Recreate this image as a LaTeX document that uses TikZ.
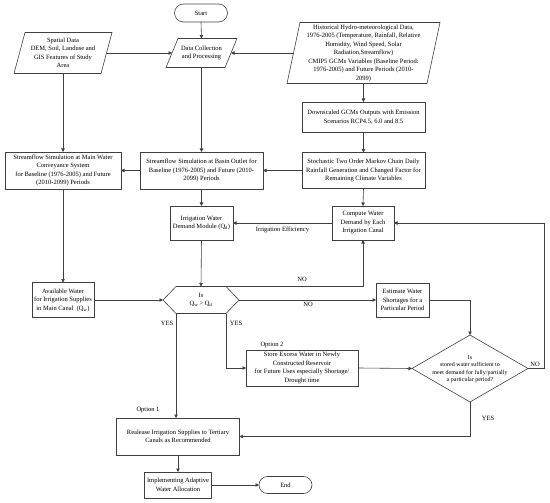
\documentclass[tikz,border=0pt]{standalone}
\usepackage{fontspec}
\setmainfont{Liberation Serif}
\usetikzlibrary{shapes.geometric,shapes.misc,arrows.meta}
\begin{document}
\begin{tikzpicture}[x=1pt,y=-1pt,
  every node/.style={font=\fontsize{6.5}{8.5}\selectfont, align=center, inner sep=0pt, outer sep=0pt},
  shp/.style={draw=black!75, line width=0.6pt},
  box/.style={shp, rectangle},
  holder/.style={rectangle, draw=none},
  term/.style={shp, rounded rectangle, minimum width=53pt, minimum height=18pt},
  arr/.style={draw=black!75, line width=0.6pt, -{Triangle[length=3.5pt,width=3.5pt]}},
  ln/.style={draw=black!75, line width=0.6pt},
  lbl/.style={font=\fontsize{6.5}{8}\selectfont}
]
\useasboundingbox (0,0) rectangle (550,503);

% terminals
\node[term] (start) at (201,13) {Start};
\node[term, minimum height=17pt] (end) at (285.5,485) {End};

% parallelograms
\node[holder, minimum width=71pt, minimum height=29pt] (dc) at (201.5,53) {Data Collection\\and Processing};
\draw[shp] ([xshift=12pt]dc.north west) -- (dc.north east) -- ([xshift=-12pt]dc.south east) -- (dc.south west) -- cycle;

\node[holder, minimum width=98pt, minimum height=41pt] (sp) at (63,53) {Spatial Data\\DEM, Soil, Landuse and\\GIS Features of Study\\Area};
\draw[shp] ([xshift=11pt]sp.north west) -- (sp.north east) -- ([xshift=-11pt]sp.south east) -- (sp.south west) -- cycle;

\node[holder, minimum width=153pt, minimum height=61pt] (hist) at (363.5,53) {Historical Hydro-meteorological Data,\\1976-2005 (Temperature, Rainfall, Relative\\Humidity, Wind Speed, Solar\\Radiation,Streamflow)\\CMIP5 GCMs Variables (Baseline Period:\\1976-2005) and Future Periods (2010-\\2099)};
\draw[shp] ([xshift=13pt]hist.north west) -- (hist.north east) -- ([xshift=-13pt]hist.south east) -- (hist.south west) -- cycle;

% boxes
\node[box, minimum width=123pt, minimum height=30pt] (down) at (363.5,117) {Downscaled GCMs Outputs with Emission\\Scenarios RCP4.5, 6.0 and 8.5};
\node[box, minimum width=123pt, minimum height=36pt] (stoch) at (363.5,170.5) {Stochastic Two Order Markov Chain Daily\\Rainfall Generation and Changed Factor for\\Remaining Climate Variables};
\node[box, minimum width=123pt, minimum height=37pt] (basin) at (201.5,170.5) {Streamflow Simulation at Basin Outlet for\\Baseline (1976-2005) and Future (2010-\\2099) Periods};
\node[box, minimum width=116pt, minimum height=37pt] (main) at (63,170.5) {Streamflow Simulation at Main Water\\Conveyance System\\for Baseline (1976-2005) and Future\\(2010-2099) Periods};
\node[box, minimum width=63pt, minimum height=34pt] (irr) at (201.5,223) {Irrigation Water\\Demand Module (Q\textsubscript{d})};
\node[box, minimum width=62pt, minimum height=34pt] (comp) at (363,223) {Compute Water\\Demand by Each\\Irrigation Canal};
\node[box, minimum width=62pt, minimum height=35pt] (avail) at (63,300) {Available Water\\for Irrigation Supplies\\in Main Canal~ (Q\textsubscript{w})};
\node[box, minimum width=53pt, minimum height=34pt] (est) at (402.5,300) {Estimate Water\\Shortages for a\\Particular Period};
\node[box, minimum width=112pt, minimum height=36pt] (store) at (302,368) {Store Excess Water in Newly\\Constructed Reservoir\\for Future Uses especially Shortage/\\Drought time};
\node[box, minimum width=123pt, minimum height=37pt] (rel) at (178,436.5) {Realease Irrigation Supplies to Tertiary\\Canals as Recommended};
\node[box, minimum width=67pt, minimum height=26pt] (impl) at (178,485) {Implementing Adaptive\\Water Allocation};

% hexagon decision
\node[holder, minimum width=76pt, minimum height=27pt] (hex) at (201,300) {Is\\Q\textsubscript{w} > Q\textsubscript{d}};
\draw[shp] (hex.west) -- ([xshift=13pt]hex.north west) -- ([xshift=-13pt]hex.north east) -- (hex.east) -- ([xshift=-13pt]hex.south east) -- ([xshift=13pt]hex.south west) -- cycle;
\coordinate (hne) at ([xshift=-13pt]hex.north east);
\coordinate (hse) at ([xshift=-13pt]hex.south east);
\coordinate (hsw) at ([xshift=13pt]hex.south west);

% diamond decision
\node[shp, diamond, minimum width=116pt, minimum height=67pt] (dm) at (470,368.5) {};
\node[font=\fontsize{6}{7.5}\selectfont] (dmtext) at (470,369) {Is\\stored water sufficient to\\meet demand for fully/partially\\a particular period?};

% connectors
\draw[arr] (start.south) -- (dc.north);
\draw[arr] ([xshift=-5.5pt]sp.east) -- ([xshift=6pt]dc.west);
\draw[arr] ([xshift=6.5pt]hist.west) -- ([xshift=-6pt]dc.east);
\draw[arr] (hist.south) -- (down.north);
\draw[arr] (down.south) -- (stoch.north);
\draw[arr] (stoch.west) -- (basin.east);
\draw[arr] (basin.west) -- (main.east);
\draw[arr] (main.north |- sp.south) -- (main.north);
\draw[arr] (basin.north |- dc.south) -- (basin.north);
\draw[arr] (basin.south) -- (irr.north);
\draw[arr] (stoch.south) -- (comp.north);
\draw[arr] (comp.west) -- node[lbl, below=4pt] (effl) {Irrigation Efficiency} (irr.east);
\draw[arr] (irr.south) -- (hex.north);
\draw[arr] (main.south) -- (avail.north);
\draw[arr] (avail.east) -- (hex.west);
\draw[arr] (hne) -| (comp.south);
\draw[arr] (hex.east) -- (est.west);
\draw[arr] (est.east) -| (dm.north);
\draw[arr] (dm.east) -- ++(16,0) |- (comp.east);
\draw[arr] (dm.south) |- (rel.east);
\draw[arr] (hse) |- (store.west);
\draw[arr] (hsw) -- (hsw |- rel.north);
\draw[arr] (store.east) -- (dm.west);
\draw[arr] (rel.south) -- (impl.north);
\draw[arr] (impl.east) -- (end.west);

% labels
\node[lbl] (no1) at (302,279) {NO};
\node[lbl] (no2) at (308,304) {NO};
\node[lbl] (no3) at (535,364) {NO};
\node[lbl] (yes1) at (167,323) {YES};
\node[lbl] (yes2) at (236,323) {YES};
\node[lbl] (yes3) at (488,418) {YES};
\node[lbl] (opt2) at (272,345) {Option 2};
\node[lbl] (opt1) at (148,410) {Option 1};
\end{tikzpicture}
\end{document}
